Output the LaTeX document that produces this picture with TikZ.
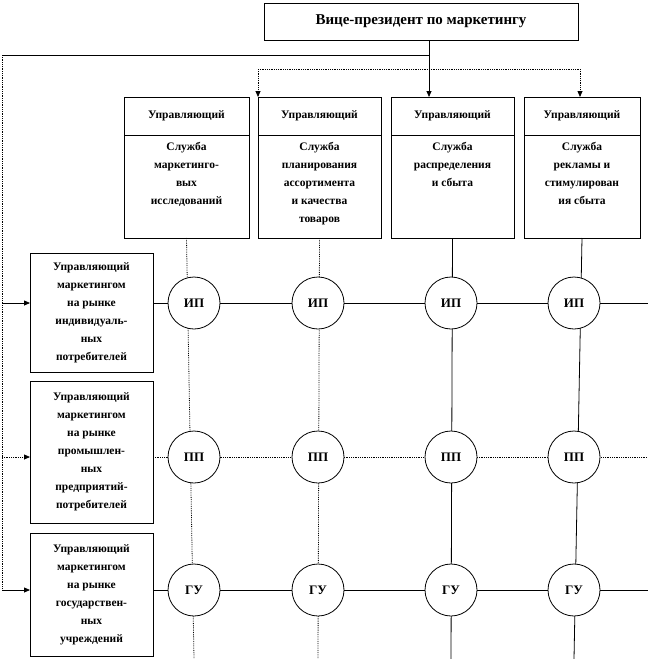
\documentclass[tikz,border=0pt]{standalone}
\usepackage{fontspec}
\setmainfont{Liberation Serif}
\usetikzlibrary{arrows.meta}
\begin{document}
\begin{tikzpicture}[x=1pt,y=-1pt,
  txt/.style={font=\bfseries\fontsize{11.5}{18}\selectfont,align=center},
  box/.style={draw,thick,fill=white},
  circ/.style={draw,thick,circle,minimum size=52pt,inner sep=0pt,fill=white,font=\bfseries\fontsize{13}{15}\selectfont},
  dt/.style={densely dotted,thick},
  sl/.style={thick},
  arr/.style={-{Triangle[length=6pt,width=5pt]}}]
\useasboundingbox (0,0) rectangle (648,659);
% VP
\node[box,minimum width=314pt,minimum height=37pt,font=\bfseries\fontsize{15}{17}\selectfont] (vp) at (421,21.5) {Вице-президент по маркетингу};
% top boxes
\foreach \i/\xa/\xb/\t in {1/124/249/{Служба\\маркетинго-\\вых\\исследований},2/258/381/{Служба\\планирования\\ассортимента\\и качества\\товаров},3/391/514/{Служба\\распределения\\и сбыта},4/524/640/{Служба\\рекламы и\\стимулирован\\ия сбыта}}{
  \draw[box] (\xa,97) rectangle (\xb,238);
  \draw[thick] (\xa,135) -- (\xb,135);
  \node[txt] (h\i) at ({(\xa+\xb)/2},116) {Управляющий};
  \node[txt,anchor=north] (s\i) at ({(\xa+\xb)/2},139) {\t};
  \coordinate (b\i) at ({(\xa+\xb)/2},238);
}
% left boxes
\node[box,txt,minimum width=123pt,minimum height=119pt] (l1) at (91.5,312.5) {Управляющий\\маркетингом\\на рынке\\индивидуаль-\\ных\\потребителей};
\node[box,txt,minimum width=123pt,minimum height=142pt] (l2) at (91.5,452) {Управляющий\\маркетингом\\на рынке\\промышлен-\\ных\\предприятий-\\потребителей};
\node[box,txt,minimum width=123pt,minimum height=123pt] (l3) at (91.5,594.5) {Управляющий\\маркетингом\\на рынке\\государствен-\\ных\\учреждений};
% connectors from VP
\coordinate (v1) at (429,40);
\coordinate (v2) at (429,55);
\coordinate (lc) at (2,55);
\coordinate (ta) at (258,69);
\coordinate (tb) at (580,69);
\draw[sl] (v1) -- (v2) -- (lc);
\draw[sl,arr] (v2) -- (429,97);
\draw[dt] (ta) -- (tb);
\draw[dt,arr] (ta) -- (258,97);
\draw[dt,arr] (tb) -- (580,97);
\draw[dt] (lc) -- (2,590);
\draw[sl,arr] (2,303) -- (30,303);
\draw[dt,arr] (2,457) -- (30,457);
\draw[sl,arr] (2,590) -- (30,590);
% grid lines
\draw[dt] (b1) -- (194,659);
\draw[dt] (b2) -- (318,659);
\draw[sl] (b3) -- (451,659);
\draw[sl] (b4) -- (574,659);
\draw[sl] (153,303) -- (648,303);
\draw[dt] (153,457) -- (648,457);
\draw[sl] (153,590) -- (648,590);
% circles
\foreach \x/\n in {194/1,318/2,451/3,574/4}{
  \node[circ] (ip\n) at (\x,303) {ИП};
  \node[circ] (pp\n) at (\x,457) {ПП};
  \node[circ] (gu\n) at (\x,590) {ГУ};
}
\end{tikzpicture}
\end{document}
